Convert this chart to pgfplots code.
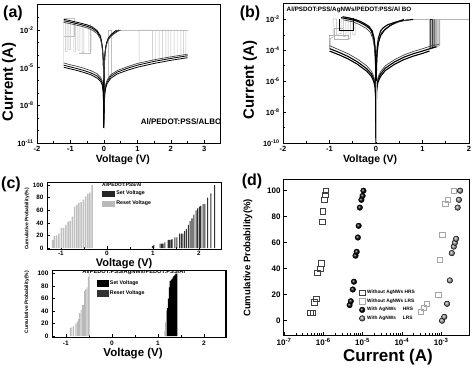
\documentclass[border=0pt]{standalone}
\usepackage{fontspec}
\setmainfont{Liberation Sans}
\usepackage{pgfplots}
\pgfplotsset{compat=1.18}
\pgfplotsset{
  panel/.style={scale only axis, anchor=south west, axis line style={line width=1pt}, tick align=inside, tick pos=left,
    major tick length=3pt, minor tick length=1.6pt, tick style={line width=0.6pt, black},
    tick label style={font=\bfseries\fontsize{7.5}{8}\selectfont},
    /pgf/number format/assume math mode=true},
  cur/.style={black, line width=0.8pt},
  curg/.style={gray!55!black, line width=0.7pt},
  sw/.style={gray!50, line width=0.45pt},
}
\newcommand{\biglab}{\bfseries\fontsize{15}{16}\selectfont}
\newcommand{\midlab}{\bfseries\fontsize{10.5}{12}\selectfont}
\begin{document}
\begin{tikzpicture}
\path[use as bounding box] (0pt,0pt) rectangle (474pt,370pt);
% ---------------- (a)
\begin{axis}[panel, at={(37pt,227pt)}, width=184pt, height=138pt, ymode=log,
  xmin=-2, xmax=3.5, ymin=1e-11, ymax=1,
  xtick={-2,-1,0,1,2,3}, minor xtick={-1.5,-0.5,0.5,1.5,2.5},
  ytick={1e-11,1e-8,1e-5,1e-2}, minor ytick={1e-10,1e-9,1e-7,1e-6,1e-4,1e-3,1e-1},
  yticklabels={10\textsuperscript{-11},10\textsuperscript{-8},10\textsuperscript{-5},10\textsuperscript{-2}},
  xlabel={Voltage (V)}, ylabel={Current (A)},
  xlabel style={at={(axis description cs:0.467,-0.123)}, anchor=center, font=\midlab},
  ylabel style={at={(axis description cs:-0.152,0.442)}, anchor=center, font=\biglab}]
\addplot[sw] coordinates {(0.35,1e-2)(2.5,1e-2)};
\addplot[sw] coordinates {(1.05,1.8e-5)(1.05,1e-2)(1.45,1e-2)(1.45,3e-5)(1.55,3.4e-5)(1.55,1e-2)(1.65,1e-2)(1.65,3.8e-5)(1.75,4.3e-5)(1.75,1e-2)(1.85,1e-2)(1.85,4.8e-5)(1.92,5.1e-5)(1.92,1e-2)(2.0,1e-2)(2.0,5.5e-5)(2.1,6.2e-5)(2.1,1e-2)(2.2,1e-2)(2.2,6.8e-5)(2.3,7.5e-5)(2.3,1e-2)(2.38,1e-2)(2.38,8e-5)(2.45,8.6e-5)(2.45,1e-2)};
\addplot[sw] coordinates {(0.14,1.6e-6)(0.14,1e-2)(0.22,1e-2)(0.22,2.2e-6)};
\addplot[sw] coordinates {(-0.38,1.5e-2)(-0.38,2.2e-4)(-0.45,2.2e-4)(-0.45,1.8e-2)(-0.6,2.4e-2)(-0.6,1.6e-4)(-0.65,1.6e-4)(-0.65,2.6e-2)(-0.72,2.9e-2)(-0.72,2.5e-4)(-0.78,2.5e-4)(-0.78,3.2e-2)(-0.85,3.5e-2)(-0.85,1.8e-4)(-0.9,1.8e-4)(-0.9,3.7e-2)(-1.0,4.3e-2)(-1.0,2.8e-4)(-1.05,2.8e-4)(-1.05,4.6e-2)(-1.1,4.9e-2)(-1.1,2e-4)(-1.15,2e-4)(-1.15,5.2e-2)(-1.2,5.5e-2)(-1.2,1.2e-4)(-1.2,1.5e-5)};
\addplot[sw] coordinates {(-1.2,8.5e-2)(-0.9,8.5e-2)(-0.9,3e-3)(-1.2,3e-3)};
\addplot[sw] coordinates {(-0.4,3e-2)(-0.4,1.5e-4)(-0.75,1.5e-4)};
% HRS positive
\addplot[cur] coordinates {(0.003,1.5e-10)(0.008,3e-9)(0.015,3e-8)(0.03,1.5e-7)(0.06,4e-7)(0.1,8e-7)(0.2,2e-6)(0.4,4.5e-6)(0.7,9e-6)(1.0,1.6e-5)(1.5,3.2e-5)(2.0,5.5e-5)(2.5,9e-5)};
\addplot[curg] coordinates {(0.004,3e-10)(0.009,6e-9)(0.017,5e-8)(0.03,2e-7)(0.06,5.4e-7)(0.1,1.1e-6)(0.2,2.7e-6)(0.4,6e-6)(0.7,1.2e-5)(1.0,2.2e-5)(1.5,4.3e-5)(2.0,7.4e-5)(2.5,1.2e-4)};
\addplot[cur] coordinates {(0.005,2e-9)(0.012,1.5e-8)(0.03,1e-7)(0.06,2.8e-7)(0.1,5.6e-7)(0.2,1.4e-6)(0.4,3.2e-6)(0.7,6.3e-6)(1.0,1.1e-5)(1.5,2.2e-5)(2.0,3.9e-5)(2.5,6.3e-5)};
% LRS positive
\addplot[cur] coordinates {(0.45,1e-2)(0.35,7e-3)(0.25,4.5e-3)(0.15,2.2e-3)(0.1,1.2e-3)(0.06,5e-4)(0.035,1.5e-4)(0.018,3e-5)(0.008,2e-6)(0.003,3e-9)};
\addplot[cur] coordinates {(0.38,1e-2)(0.3,7e-3)(0.2,4e-3)(0.12,2e-3)(0.08,1e-3)(0.05,4e-4)(0.03,1.2e-4)(0.015,2e-5)(0.007,1e-6)(0.003,3e-9)};
\addplot[curg] coordinates {(0.5,1e-2)(0.4,7.5e-3)(0.3,5e-3)(0.2,3e-3)(0.12,1.5e-3)(0.07,6e-4)(0.04,2e-4)(0.02,4e-5)(0.01,4e-6)(0.004,1e-8)};
% LRS negative
\addplot[cur] coordinates {(-0.003,3e-9)(-0.008,2e-6)(-0.018,3e-5)(-0.035,2e-4)(-0.06,8e-4)(-0.1,2.5e-3)(-0.2,7e-3)(-0.35,1.4e-2)(-0.5,2e-2)(-0.7,2.8e-2)(-0.9,3.7e-2)(-1.05,4.6e-2)(-1.2,5.5e-2)};
\addplot[cur] coordinates {(-0.003,5e-9)(-0.009,4e-6)(-0.02,5e-5)(-0.04,3e-4)(-0.07,1.2e-3)(-0.1,3.3e-3)(-0.2,9e-3)(-0.35,1.8e-2)(-0.5,2.6e-2)(-0.7,3.6e-2)(-0.9,4.8e-2)(-1.05,6e-2)(-1.2,7.2e-2)};
\addplot[curg] coordinates {(-0.004,2e-9)(-0.009,1.5e-6)(-0.018,2e-5)(-0.035,1.4e-4)(-0.06,6e-4)(-0.1,1.9e-3)(-0.2,5.2e-3)(-0.35,1e-2)(-0.5,1.5e-2)(-0.7,2.1e-2)(-0.9,2.8e-2)(-1.05,3.4e-2)(-1.2,4.1e-2)};
% HRS negative
\addplot[cur] coordinates {(-1.2,1.6e-5)(-1.0,1.15e-5)(-0.8,8.5e-6)(-0.6,6e-6)(-0.4,4e-6)(-0.2,2.2e-6)(-0.1,1.2e-6)(-0.05,6e-7)(-0.02,1.5e-7)(-0.008,1e-8)(-0.003,2e-10)};
\addplot[curg] coordinates {(-1.2,2.4e-5)(-1.0,1.7e-5)(-0.8,1.3e-5)(-0.6,9e-6)(-0.4,6e-6)(-0.2,3.3e-6)(-0.1,1.8e-6)(-0.05,9e-7)(-0.02,2.2e-7)(-0.008,1.5e-8)(-0.003,3e-10)};
\addplot[cur] coordinates {(-1.2,1.1e-5)(-1.0,8e-6)(-0.8,6e-6)(-0.6,4.2e-6)(-0.4,2.8e-6)(-0.2,1.5e-6)(-0.1,8.4e-7)(-0.05,4.2e-7)(-0.02,1e-7)(-0.01,6e-9)(-0.004,4e-10)};
\addplot[black, line width=1pt] coordinates {(0,1e-6)(0,1.5e-10)};
\node[font=\bfseries\fontsize{8}{9}\selectfont] at (axis description cs:0.783,0.152) {Al/PEDOT:PSS/ALBO};
\end{axis}
% ---------------- (b)
\begin{axis}[panel, at={(283pt,227pt)}, width=186pt, height=139pt, ymode=log,
  xmin=-2, xmax=2, ymin=1e-10, ymax=1e-1,
  xtick={-2,-1,0,1,2}, minor xtick={-1.5,-0.5,0.5,1.5},
  ytick={1e-10,1e-8,1e-6,1e-4,1e-2}, minor ytick={1e-9,1e-7,1e-5,1e-3},
  yticklabels={10\textsuperscript{-10},10\textsuperscript{-8},10\textsuperscript{-6},10\textsuperscript{-4},10\textsuperscript{-2}},
  xlabel={Voltage (V)}, ylabel={Current (A)},
  xlabel style={at={(axis description cs:0.468,-0.122)}, anchor=center, font=\midlab},
  ylabel style={at={(axis description cs:-0.177,0.453)}, anchor=center, font=\biglab}]
\addplot[gray!60, line width=1pt] coordinates {(0.75,1e-2)(2,1e-2)};
\addplot[gray!60, line width=0.7pt] coordinates {(1.15,1.1e-4)(1.15,1e-2)(1.18,1e-2)(1.18,1.2e-4)(1.2,1.3e-4)(1.2,1e-2)(1.22,1e-2)(1.22,1.4e-4)(1.24,1.45e-4)(1.24,1e-2)(1.26,1e-2)(1.26,1.5e-4)(1.28,1.55e-4)(1.28,1e-2)(1.3,1e-2)(1.3,1.6e-4)(1.32,1.7e-4)(1.32,1e-2)(1.35,1e-2)(1.35,1.8e-4)(1.37,2e-4)(1.37,1e-2)};
\addplot[black, line width=0.5pt] coordinates {(1.17,1.2e-4)(1.17,1e-2)(1.21,1e-2)(1.21,1.4e-4)(1.25,1.5e-4)(1.25,1e-2)};
\addplot[gray!60, line width=0.5pt] coordinates {(-0.45,8.5e-3)(-0.45,1e-3)(-0.5,1e-3)(-0.5,9.5e-3)(-0.55,1e-2)(-0.55,6e-4)(-0.6,6e-4)(-0.6,1.05e-2)(-0.65,1.1e-2)(-0.65,8e-4)(-0.7,8e-4)(-0.7,1.2e-2)(-0.75,1.2e-2)(-0.75,1.2e-3)(-0.85,1.1e-3)(-0.85,1.1e-2)(-0.92,1.1e-2)(-0.92,7e-4)(-0.98,6e-4)(-0.98,1.5e-4)};
\addplot[gray!60, line width=0.5pt] coordinates {(-1.0,1.5e-4)(-1.0,1e-3)(-0.6,1e-3)(-0.6,5e-4)(-0.9,5e-4)(-0.9,2.5e-3)(-0.7,2.5e-3)};
\addplot[black, line width=0.4pt] coordinates {(-0.5,1.2e-2)(-0.5,2e-3)(-0.8,2e-3)(-0.8,1.1e-2)};
% HRS +
\addplot[black, line width=1.1pt] coordinates {(0.002,2e-10)(0.005,1e-8)(0.01,2e-7)(0.02,6e-7)(0.05,1.5e-6)(0.1,3e-6)(0.2,7e-6)(0.4,1.8e-5)(0.6,3.6e-5)(0.8,6e-5)(1.0,9e-5)(1.2,1.4e-4)(1.3,1.7e-4)};
\addplot[curg] coordinates {(0.003,5e-10)(0.006,2e-8)(0.012,3e-7)(0.02,8.5e-7)(0.05,2.1e-6)(0.1,4.2e-6)(0.2,1e-5)(0.4,2.5e-5)(0.6,5e-5)(0.8,8.4e-5)(1.0,1.26e-4)(1.2,2e-4)(1.35,2.4e-4)};
\addplot[black, line width=1.1pt] coordinates {(0.003,1e-9)(0.008,5e-8)(0.015,2.5e-7)(0.03,6e-7)(0.05,1e-6)(0.1,2.1e-6)(0.2,4.9e-6)(0.4,1.26e-5)(0.6,2.5e-5)(0.8,4.2e-5)(1.0,6.3e-5)(1.15,9e-5)};
% LRS +
\addplot[black, line width=1.1pt] coordinates {(0.8,1e-2)(0.6,8.5e-3)(0.4,6.5e-3)(0.25,4.5e-3)(0.15,2.8e-3)(0.1,1.8e-3)(0.05,6e-4)(0.025,1.5e-4)(0.012,3e-5)(0.006,3e-6)(0.002,3e-9)};
\addplot[curg] coordinates {(0.7,1e-2)(0.5,7e-3)(0.35,4.6e-3)(0.2,2.5e-3)(0.12,1.4e-3)(0.07,6e-4)(0.035,1.6e-4)(0.015,3e-5)(0.007,3e-6)(0.003,5e-9)};
\addplot[black, line width=1.1pt] coordinates {(0.6,1e-2)(0.45,7e-3)(0.3,4e-3)(0.18,2e-3)(0.1,9e-4)(0.05,3e-4)(0.025,7e-5)(0.012,1.2e-5)(0.006,1e-6)(0.002,2e-9)};
% LRS -
\addplot[black, line width=1.1pt] coordinates {(-0.002,3e-9)(-0.006,3e-6)(-0.012,3e-5)(-0.025,1.5e-4)(-0.05,6e-4)(-0.1,1.8e-3)(-0.15,2.8e-3)(-0.25,4.5e-3)(-0.35,6.5e-3)(-0.45,8.5e-3)(-0.55,1e-2)(-0.65,1.15e-2)(-0.75,1.3e-2)};
\addplot[curg] coordinates {(-0.003,5e-9)(-0.007,3e-6)(-0.015,3e-5)(-0.035,1.6e-4)(-0.07,6e-4)(-0.12,1.4e-3)(-0.2,2.5e-3)(-0.35,4.6e-3)(-0.5,7e-3)(-0.7,9.5e-3)};
\addplot[black, line width=1.1pt] coordinates {(-0.002,2e-9)(-0.005,2e-6)(-0.01,3e-5)(-0.02,1.6e-4)(-0.04,6e-4)(-0.08,1.8e-3)(-0.15,3.5e-3)(-0.25,5.5e-3)(-0.35,7.8e-3)(-0.45,1e-2)(-0.6,1.3e-2)(-0.72,1.5e-2)};
% HRS -
\addplot[black, line width=1.1pt] coordinates {(-1.0,1.3e-4)(-0.8,7.5e-5)(-0.6,4e-5)(-0.4,1.8e-5)(-0.2,6.5e-6)(-0.1,3e-6)(-0.05,1.5e-6)(-0.02,6e-7)(-0.01,2e-7)(-0.005,1e-8)(-0.002,2e-10)};
\addplot[curg] coordinates {(-1.0,2e-4)(-0.8,1.1e-4)(-0.6,6e-5)(-0.4,2.7e-5)(-0.2,1e-5)(-0.1,4.5e-6)(-0.05,2.2e-6)(-0.02,9e-7)(-0.01,3e-7)(-0.005,2e-8)(-0.002,4e-10)};
\addplot[black, line width=1.1pt] coordinates {(-1.0,9e-5)(-0.8,5.2e-5)(-0.6,2.8e-5)(-0.4,1.26e-5)(-0.2,4.5e-6)(-0.1,2.1e-6)(-0.05,1e-6)(-0.02,4e-7)(-0.01,1.2e-7)(-0.005,6e-9)(-0.002,1e-10)};
\addplot[gray!60, line width=0.6pt] coordinates {(0,1e-6)(0,1.2e-10)};
\node[font=\bfseries\fontsize{6.3}{7}\selectfont] at (axis description cs:0.355,0.957) {Al/PSDOT:PSS/AgNWs/PEDOT:PSS/Al BO};
\end{axis}
% ---------------- (c) top
\begin{axis}[panel, at={(47pt,121pt)}, width=174pt, height=67pt,
  xmin=-1.3, xmax=2.48, ymin=-1.5, ymax=105,
  xtick={-1,0,1,2}, minor xtick={-0.5,0.5,1.5}, ytick={0,20,40,60,80,100},
  tick label style={font=\bfseries\fontsize{6.3}{7}\selectfont},
  xticklabel style={yshift=1pt},
  xlabel={Voltage (V)}, ylabel={Cumulative Probability(\%)},
  xlabel style={at={(axis description cs:0.443,-0.215)}, anchor=center, font=\bfseries\fontsize{11}{12}\selectfont},
  ylabel style={at={(axis description cs:-0.115,0.448)}, anchor=center, font=\bfseries\fontsize{5}{6}\selectfont},
  legend style={draw=none, fill=none, at={(axis description cs:0.315,0.9)}, anchor=north west,
    font=\bfseries\fontsize{5.3}{6}\selectfont, row sep=0.6pt, inner sep=0pt}, legend cell align=left]
\addplot[ybar, bar shift=0pt, bar width=0.033, fill=gray!50, draw=none, forget plot] coordinates {(-1.18,13)(-1.14,19)(-1.09,20)(-1.04,23)(-0.99,32)(-0.94,32)(-0.89,37)(-0.84,42)(-0.80,43)(-0.75,50)(-0.70,66)(-0.65,69)(-0.61,72)(-0.56,73)(-0.51,77)(-0.46,82)(-0.41,86)(-0.37,88)(-0.32,100)};
\addplot[ybar, bar shift=0pt, bar width=0.022, fill=black!80, draw=none, forget plot] coordinates {(0.99,3)(1.02,5)(1.16,7)(1.19,7)(1.22,7)(1.26,9)(1.33,13)(1.36,13)(1.39,13)(1.42,14)(1.48,17)(1.52,17)(1.58,23)(1.62,23)(1.65,23)(1.69,27)(1.73,30)(1.77,37)(1.81,43)(1.85,47)(1.89,53)(1.94,60)(1.97,63)(2.01,66)(2.04,67)(2.09,70)(2.13,70)(2.19,80)(2.26,87)(2.34,100)};
\addlegendimage{legend image code/.code={\fill[black!85] (0pt,-2.8pt) rectangle (12pt,2.8pt);}}
\addlegendentry{Set Voltage}
\addlegendimage{legend image code/.code={\fill[gray!55] (0pt,-2.8pt) rectangle (12pt,2.8pt);}}
\addlegendentry{Reset Voltage}
\node[font=\bfseries\fontsize{4.8}{5}\selectfont] at (axis description cs:0.43,0.96) {Al/PEDOT:PSS/Al};
\end{axis}
% ---------------- (c) bottom
\begin{axis}[panel, at={(52pt,33pt)}, width=174pt, height=67pt,
  xmin=-1.3, xmax=2.48, ymin=-1.5, ymax=106,
  xtick={-1,0,1,2}, minor xtick={-0.5,0.5,1.5}, ytick={0,20,40,60,80,100},
  tick label style={font=\bfseries\fontsize{6.5}{7}\selectfont},
  xlabel={Voltage (V)}, ylabel={Cumulative Probability(\%)},
  xlabel style={at={(axis description cs:0.466,-0.254)}, anchor=center, font=\bfseries\fontsize{11.5}{12}\selectfont},
  ylabel style={at={(axis description cs:-0.144,0.52)}, anchor=center, font=\bfseries\fontsize{5}{6}\selectfont},
  legend style={draw=none, fill=none, at={(axis description cs:0.255,0.87)}, anchor=north west,
    font=\bfseries\fontsize{5.3}{6}\selectfont, row sep=0.6pt, inner sep=0pt}, legend cell align=left]
\addplot[ybar, bar shift=0pt, bar width=0.02, fill=gray!55, draw=none, forget plot] coordinates {(-0.9,13)(-0.87,14)(-0.83,16)(-0.78,20)(-0.75,23)(-0.72,27)(-0.70,37)(-0.67,42)(-0.64,50)(-0.62,50)(-0.59,72)(-0.57,75)(-0.54,78)(-0.51,95)(-0.49,100)};
\addplot[ybar, bar shift=0pt, bar width=0.02, fill=gray!60, draw=none, forget plot] coordinates {(1.15,8)(1.17,22)(1.19,40)};
\addplot[ybar, bar shift=0pt, bar width=0.024, fill=black, draw=none, forget plot] coordinates {(1.21,45)(1.23,60)(1.25,78)(1.27,88)(1.29,90)(1.31,92)(1.33,94)(1.35,96)(1.37,98)(1.39,100)(1.41,100)};
\addlegendimage{legend image code/.code={\fill[black] (0pt,-3pt) rectangle (11pt,3pt);}}
\addlegendentry{Set Voltage}
\addlegendimage{legend image code/.code={\fill[gray!40!black] (0pt,-3pt) rectangle (11pt,3pt);}}
\addlegendentry{Reset Voltage}
\node[font=\bfseries\fontsize{5.7}{6}\selectfont] at (axis description cs:0.47,0.965) {Al/PEDOT:PSS/AgNWs/PEDOT:PSS/Al};
\end{axis}
% ---------------- (d)
\begin{axis}[panel, at={(284pt,35pt)}, width=185pt, height=156pt, xmode=log,
  xmin=1e-7, xmax=5.1e-3, ymin=-11, ymax=109,
  xtick={1e-7,1e-6,1e-5,1e-4,1e-3},
  xticklabels={10\textsuperscript{-7},10\textsuperscript{-6},10\textsuperscript{-5},10\textsuperscript{-4},10\textsuperscript{-3}},
  ytick={0,20,40,60,80,100},
  tick label style={font=\bfseries\fontsize{8}{9}\selectfont},
  xlabel={Current (A)}, ylabel={Cumulative Probability(\%)},
  xlabel style={at={(axis description cs:0.562,-0.141)}, anchor=center, font=\bfseries\fontsize{17}{18}\selectfont},
  ylabel style={at={(axis description cs:-0.195,0.494)}, anchor=center, font=\bfseries\fontsize{9.5}{10}\selectfont},
  legend style={draw=none, fill=none, at={(axis description cs:0.40,0.07)}, anchor=south west,
    font=\bfseries\fontsize{4.8}{5}\selectfont, row sep=-0.5pt, inner sep=1pt}, legend cell align=left]
\addplot[only marks, mark=square, mark size=2.8pt, gray!50!black, mark options={line width=0.6pt}] coordinates {(4.68e-7,6)(5.37e-7,6)(5.89e-7,14)(6.61e-7,17)(7.08e-7,37)(8.32e-7,40)(8.91e-7,44)(9.33e-7,76)(9.77e-7,84)(1.05e-6,93)(1.12e-6,97)(1.17e-6,100)};
\addlegendentry{Without AgNWs HRS}
\addplot[only marks, mark=square, mark size=2.8pt, gray!70, mark options={line width=0.6pt}] coordinates {(3.02e-4,7)(3.63e-4,10)(4.27e-4,13)(8.3e-4,20)(9.3e-4,47)(1.05e-3,66)(1.26e-3,90)(1.48e-3,93)(2.09e-3,100)};
\addlegendentry{Without AgNWs LRS}
\addplot[only marks, mark=ball, mark size=2.8pt, mark options={ball color=black}] coordinates {(4.68e-6,12)(5.01e-6,15)(5.62e-6,24)(6.03e-6,30)(6.61e-6,50)(7.08e-6,53)(7.59e-6,64)(7.94e-6,73)(8.51e-6,87)(9.33e-6,93)(1e-5,96)(1.05e-5,100)};
\addlegendentry{With AgNWs\hspace{7pt}HRS}
\addplot[only marks, mark=ball, mark size=2.8pt, mark options={ball color=gray!80}] coordinates {(1.05e-3,0)(1.2e-3,3)(1.41e-3,13)(1.66e-3,31)(1.86e-3,52)(2.09e-3,57)(2.24e-3,60)(2.4e-3,63)(2.63e-3,87)(2.82e-3,93)(3.02e-3,100)};
\addlegendentry{With AgNWs\hspace{7pt}LRS}
\end{axis}
% panel labels
\node[font=\bfseries\fontsize{16}{17}\selectfont] at (13pt,357pt) {(a)};
\node[font=\bfseries\fontsize{16}{17}\selectfont] at (250pt,357pt) {(b)};
\node[font=\bfseries\fontsize{16}{17}\selectfont] at (11pt,186pt) {(c)};
\node[font=\bfseries\fontsize{16}{17}\selectfont] at (252pt,189pt) {(d)};
\end{tikzpicture}
\end{document}
